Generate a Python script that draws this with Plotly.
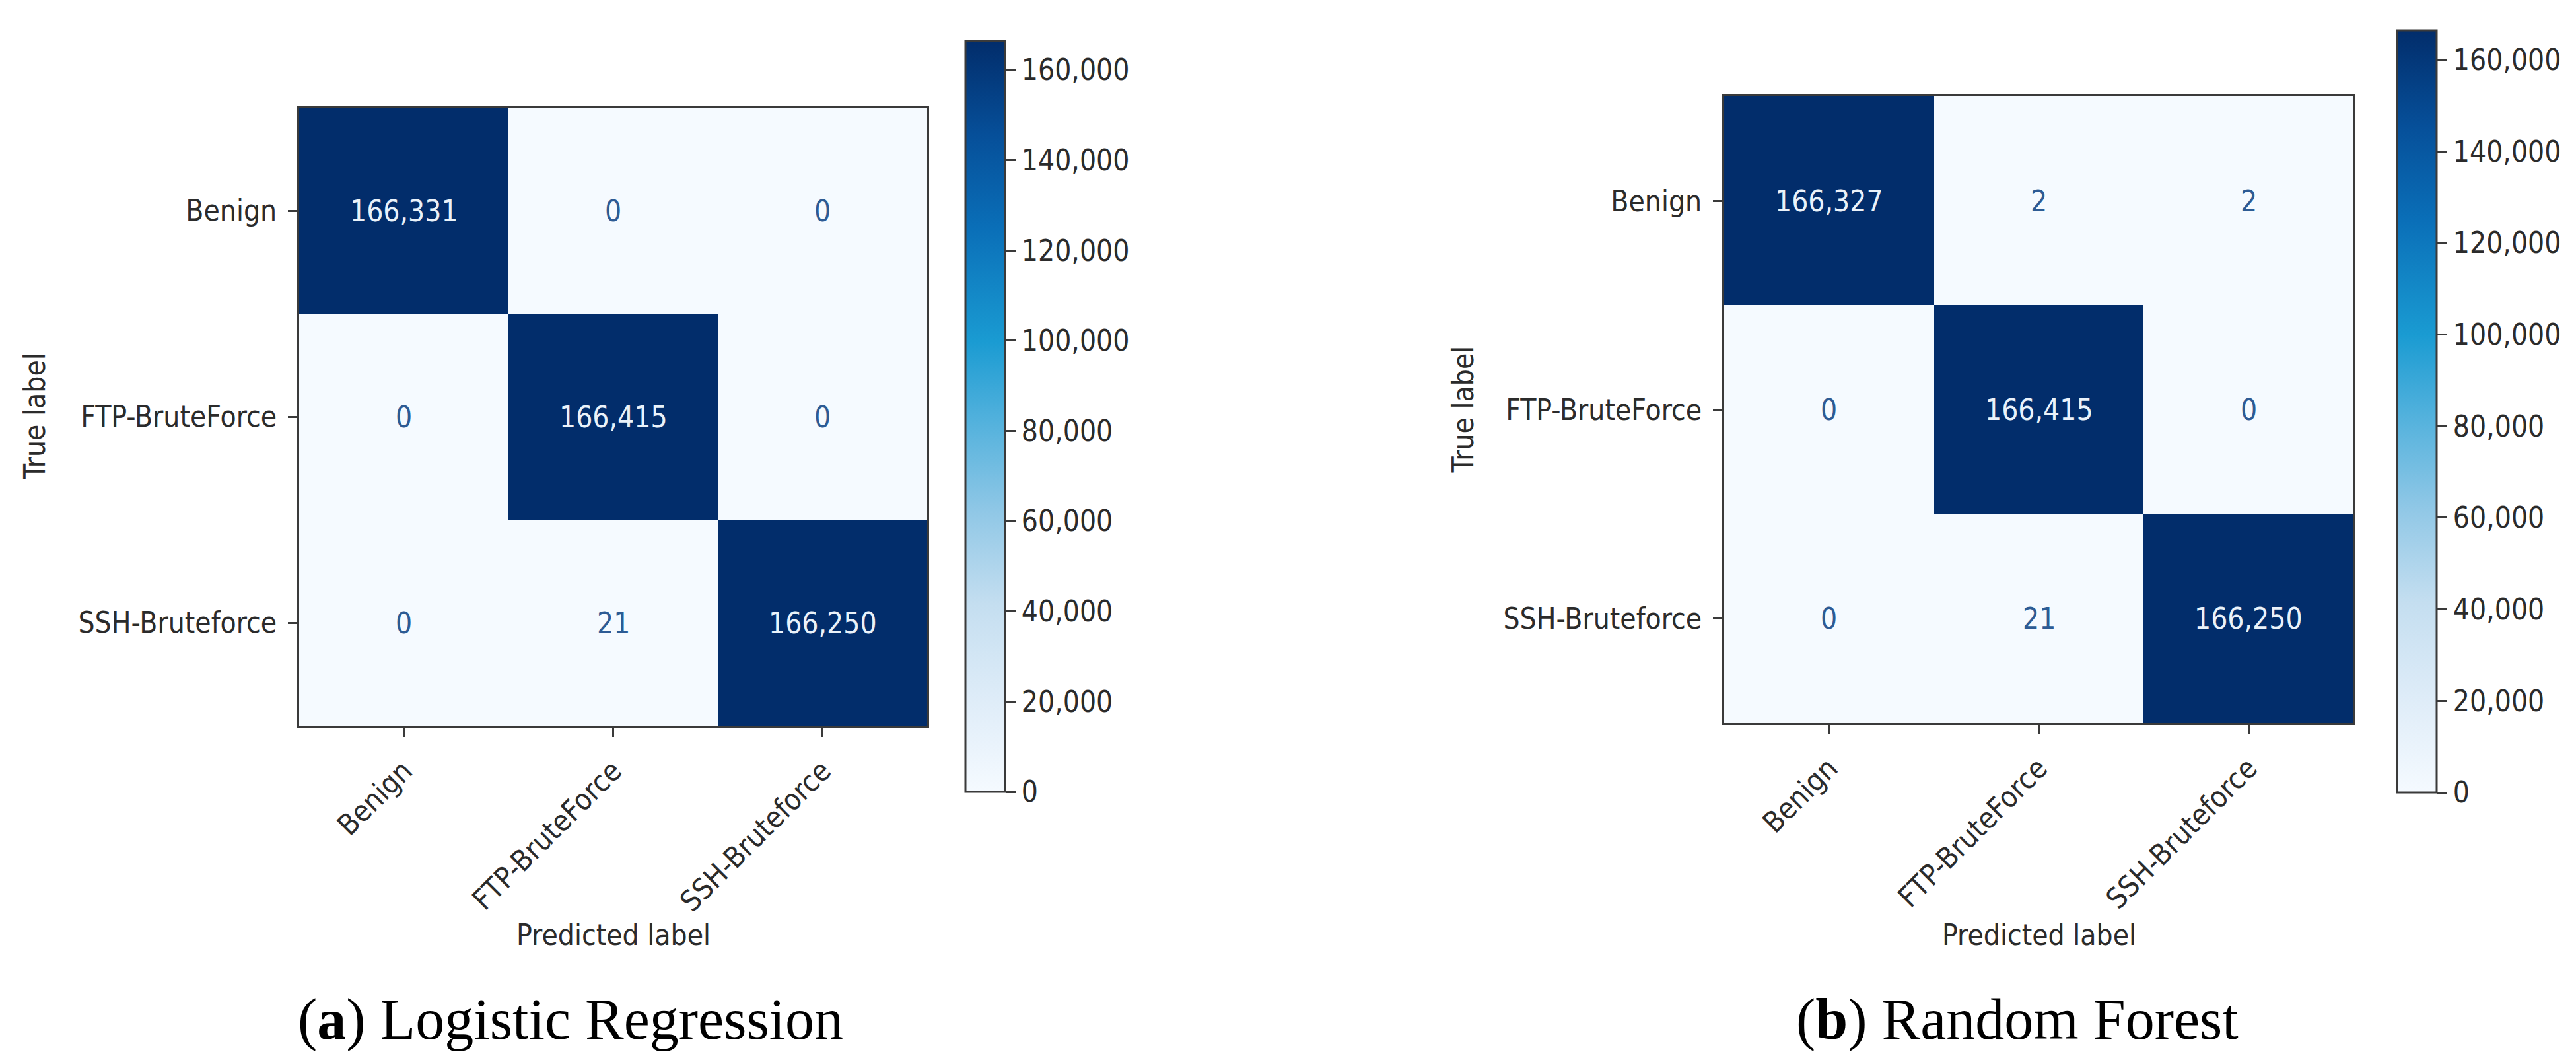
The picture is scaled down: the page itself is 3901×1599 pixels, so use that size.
import plotly.graph_objects as go


CLASS_LABELS = ["Benign", "FTP-BruteForce", "SSH-Bruteforce"]

LOGISTIC_REGRESSION_COUNTS = [
    [166331, 0, 0],
    [0, 166415, 0],
    [0, 21, 166250],
]

RANDOM_FOREST_COUNTS = [
    [166327, 2, 2],
    [0, 166415, 0],
    [0, 21, 166250],
]

COLORBAR_TICKS = [0, 20000, 40000, 60000, 80000, 100000, 120000, 140000, 160000]

CAPTIONS = ["(<b>a</b>) Logistic Regression", "(<b>b</b>) Random Forest"]

WIDTH = 3901
HEIGHT = 1599

SANS = "DejaVu Sans Condensed, DejaVu Sans, sans-serif"
SERIF = "Liberation Serif, serif"
INK = "#2b2b2b"
FRAME = "#3a3a3a"
DARK_TEXT = "#2d5b94"
LIGHT_TEXT = "#eaf2fa"

# Blues, nudged a little toward the look of the scanned figure
BLUES = [
    [0.0, "#f5faff"],
    [0.125, "#deecf8"],
    [0.25, "#c4def0"],
    [0.375, "#8fc7e6"],
    [0.5, "#4fb0dc"],
    [0.6, "#1a9bd2"],
    [0.75, "#0a6fb8"],
    [0.875, "#064f99"],
    [1.0, "#022d6b"],
]

# pixel boxes: heatmap (left, top, right, bottom), colorbar (left, top, bottom)
PANELS = [
    {
        "counts": LOGISTIC_REGRESSION_COUNTS,
        "heatmap": (445, 155, 1396, 1091),
        "colorbar": (1454, 54, 1191),
        "true_label_x": 45,
        "caption_x": 856,
    },
    {
        "counts": RANDOM_FOREST_COUNTS,
        "heatmap": (2603, 138, 3556, 1087),
        "colorbar": (3622, 38, 1192),
        "true_label_x": 2207,
        "caption_x": 3047,
    },
]


def px_x(x):
    return x / WIDTH


def px_y(y):
    return 1 - y / HEIGHT


fig = go.Figure()

for index, (panel, caption) in enumerate(zip(PANELS, CAPTIONS)):
    suffix = "" if index == 0 else str(index + 1)
    counts = panel["counts"]
    zmax = max(max(row) for row in counts)
    left, top, right, bottom = panel["heatmap"]
    bar_left, bar_top, bar_bottom = panel["colorbar"]

    fig.add_trace(
        go.Heatmap(
            z=counts,
            x=CLASS_LABELS,
            y=CLASS_LABELS,
            xaxis="x" + suffix,
            yaxis="y" + suffix,
            zmin=0,
            zmax=zmax,
            colorscale=BLUES,
            hoverinfo="skip",
            colorbar=dict(
                x=px_x(bar_left),
                xanchor="left",
                y=px_y(bar_top),
                yanchor="top",
                len=(bar_bottom - bar_top) / HEIGHT,
                lenmode="fraction",
                thickness=60,
                xpad=0,
                ypad=0,
                outlinewidth=3,
                outlinecolor=FRAME,
                tickvals=COLORBAR_TICKS,
                tickformat=",",
                ticks="outside",
                ticklen=15,
                tickwidth=3,
                tickcolor=FRAME,
                tickfont=dict(family=SANS, size=44, color=INK),
            ),
        )
    )

    axis_style = dict(
        type="category",
        showline=True,
        mirror=True,
        linewidth=3,
        linecolor=FRAME,
        ticks="outside",
        ticklen=14,
        tickwidth=3,
        tickcolor=FRAME,
        ticklabelstandoff=8,
        showgrid=False,
        zeroline=False,
        tickfont=dict(family=SANS, size=44, color=INK),
    )

    fig.update_layout(
        {
            "xaxis" + suffix: dict(
                axis_style,
                domain=[px_x(left), px_x(right)],
                anchor="y" + suffix,
                range=[-0.5, 2.5],
                tickangle=-45,
            ),
            "yaxis" + suffix: dict(
                axis_style,
                domain=[px_y(bottom), px_y(top)],
                anchor="x" + suffix,
                range=[2.5, -0.5],
            ),
        }
    )

    for row_index, row in enumerate(counts):
        for col_index, value in enumerate(row):
            fig.add_annotation(
                x=CLASS_LABELS[col_index],
                y=CLASS_LABELS[row_index],
                xref="x" + suffix,
                yref="y" + suffix,
                text=f"{value:,}",
                showarrow=False,
                font=dict(
                    family=SANS,
                    size=44,
                    color=LIGHT_TEXT if value > zmax / 2 else DARK_TEXT,
                ),
            )

    fig.add_annotation(
        x=px_x((left + right) / 2),
        y=px_y(1407),
        xref="paper",
        yref="paper",
        text="Predicted label",
        showarrow=False,
        xanchor="center",
        yanchor="middle",
        font=dict(family=SANS, size=44, color=INK),
    )

    fig.add_annotation(
        x=px_x(panel["true_label_x"]),
        y=px_y((top + bottom) / 2),
        xref="paper",
        yref="paper",
        text="True label",
        textangle=-90,
        showarrow=False,
        xanchor="center",
        yanchor="middle",
        font=dict(family=SANS, size=44, color=INK),
    )

    fig.add_annotation(
        x=px_x(panel["caption_x"]),
        y=px_y(1535),
        xref="paper",
        yref="paper",
        text=caption,
        showarrow=False,
        xanchor="center",
        yanchor="middle",
        font=dict(family=SERIF, size=88, color="#000000"),
    )

fig.update_layout(
    width=WIDTH,
    height=HEIGHT,
    margin=dict(l=0, r=0, t=0, b=0),
    paper_bgcolor="white",
    plot_bgcolor="white",
    showlegend=False,
)

fig.write_html("out.html")
